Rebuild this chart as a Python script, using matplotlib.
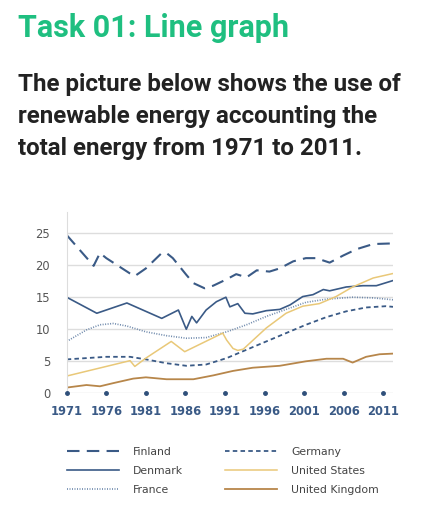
import matplotlib.pyplot as plt

# Datos (% de energia renovable)
fin_x = [1971, 1974.4, 1975.2, 1976, 1979, 1979.6, 1981, 1983, 1983.6, 1984.4, 1986.1, 1987, 1988.4,
         1989.5, 1991.2, 1992.4, 1993.7, 1995, 1996.6, 1997.9, 1999.6, 2001.2, 2002.5, 2004.2, 2005.9,
         2007.6, 2009.7, 2012.2]
fin_y = [24.6, 19.8, 21.8, 21.0, 18.6, 18.2, 19.4, 21.8, 21.8, 21.0, 18.4, 17.1, 16.3,
         16.7, 17.7, 18.5, 18.0, 19.1, 18.9, 19.4, 20.5, 21.0, 21.0, 20.3, 21.4,
         22.4, 23.2, 23.3]

den_x = [1971, 1974.8, 1978.6, 1983, 1985.1, 1986.1, 1986.8, 1987.4, 1988.6, 1989.9, 1991.1, 1991.6,
         1992.6, 1993.5, 1994.5, 1996.2, 1997.9, 1999.2, 2000.8, 2002.1, 2003.4, 2004.2, 2006.3,
         2008.4, 2010.1, 2012.2]
den_y = [14.9, 12.4, 14.0, 11.6, 12.9, 9.9, 11.9, 10.9, 12.9, 14.2, 14.9, 13.4,
         13.9, 12.4, 12.3, 12.8, 13.0, 13.7, 15.0, 15.3, 16.1, 15.9, 16.5,
         16.7, 16.7, 17.5]

fra_x = [1971, 1973.5, 1975.2, 1976.9, 1978.6, 1981, 1983.6, 1986.1, 1988.6, 1991.2, 1993.7, 1996.2,
         1998.7, 2001.2, 2003.8, 2007.1, 2009.7, 2012.2]
fra_y = [8.0, 9.8, 10.6, 10.8, 10.4, 9.5, 8.9, 8.5, 8.6, 9.5, 10.6, 11.9,
         13.0, 14.1, 14.6, 14.9, 14.8, 14.5]

ger_x = [1971, 1976, 1979, 1981, 1983.6, 1986.1, 1988.6, 1991.2, 1993.7, 1996.2, 1998.7, 2001.2,
         2003.8, 2006.3, 2008.8, 2011.3, 2012.2]
ger_y = [5.2, 5.6, 5.6, 5.2, 4.6, 4.2, 4.4, 5.4, 6.7, 8.0, 9.3, 10.6,
         11.8, 12.7, 13.3, 13.5, 13.4]

us_x = [1971, 1979, 1979.6, 1981, 1984.2, 1985.9, 1990.7, 1991.2, 1992, 1992.6, 1993.3, 1996.2,
        1998.7, 2000.8, 2002.9, 2005, 2007.1, 2009.7, 2012.2]
us_y = [2.6, 5.0, 4.1, 5.4, 8.0, 6.4, 9.3, 8.2, 6.9, 6.6, 6.8, 10.1,
        12.4, 13.5, 13.9, 15.0, 16.5, 17.9, 18.6]

uk_x = [1971, 1973.5, 1975.2, 1976.9, 1979.4, 1981, 1983.6, 1987, 1989.5, 1992, 1994.5, 1997.9,
        2001.2, 2003.8, 2005.9, 2007.1, 2008.8, 2010.5, 2012.2]
uk_y = [0.8, 1.2, 1.0, 1.5, 2.2, 2.4, 2.1, 2.1, 2.7, 3.4, 3.9, 4.2,
        4.9, 5.3, 5.3, 4.7, 5.6, 6.0, 6.1]

anos = [1971, 1976, 1981, 1986, 1991, 1996, 2001, 2006, 2011]
yticks = [0, 5, 10, 15, 20, 25]

azul = '#3a5a86'
fig = plt.figure(figsize=(4.38, 5.12), dpi=100)
fig.patch.set_facecolor('white')

# Titulo y enunciado
fig.text(18 / 438, 1 - 28 / 512, 'Task 01: Line graph', fontsize=22, fontweight='bold',
         color='#1fbf80', family='Roboto', va='center', ha='left')
enunciado = ['The picture below shows the use of',
             'renewable energy accounting the',
             'total energy from 1971 to 2011.']
for i, linea in enumerate(enunciado):
    fig.text(18 / 438, 1 - (85 + i * 32) / 512, linea, fontsize=17.4, fontweight='bold',
             color='#222222', family='Roboto', va='center', ha='left')

ax = fig.add_axes([66.7 / 438, 1 - 392.7 / 512, (393 - 66.7) / 438, (392.7 - 212) / 512])
ax.set_xlim(1971, 2012.2)
ax.set_ylim(0, 28.2)

for v in yticks:
    ax.axhline(v, color='#dddddd', lw=1.0, zorder=0)

ax.plot(fin_x, fin_y, color=azul, lw=1.5, dashes=(6, 3.5), label='Finland')
ax.plot(den_x, den_y, color=azul, lw=1.2, label='Denmark')
ax.plot(fra_x, fra_y, color='#6d88ab', lw=1.2, ls=(0, (0.6, 0.9)), label='France')
ax.plot(ger_x, ger_y, color=azul, lw=1.3, dashes=(2.5, 1.8), label='Germany')
ax.plot(us_x, us_y, color='#e9c878', lw=1.1, label='United States')
ax.plot(uk_x, uk_y, color='#b7864a', lw=1.3, label='United Kingdom')

ax.plot(anos, [0] * len(anos), 'o', color='#2f4f7a', ms=2.5, clip_on=False, zorder=5)

for s in ['top', 'right', 'bottom']:
    ax.spines[s].set_visible(False)
ax.spines['left'].set_color('#dddddd')

ax.set_xticks(anos)
ax.set_xticklabels([str(a) for a in anos], color=azul, fontsize=8.3, fontweight='bold')
ax.set_yticks(yticks)
ax.set_yticklabels([str(v) for v in yticks], color='#555555', fontsize=8.3)
ax.tick_params(length=0, pad=9)
ax.tick_params(axis='y', pad=12)

handles, labels = ax.get_legend_handles_labels()
fig.legend(handles, labels, ncol=2, loc='upper left', bbox_to_anchor=(57 / 438, 1 - 437 / 512),
           frameon=False, fontsize=7.8, handlelength=4.8, handletextpad=1.3, columnspacing=3.9,
           labelspacing=0.85, labelcolor='#444444')

plt.savefig('out.png', dpi=100)
